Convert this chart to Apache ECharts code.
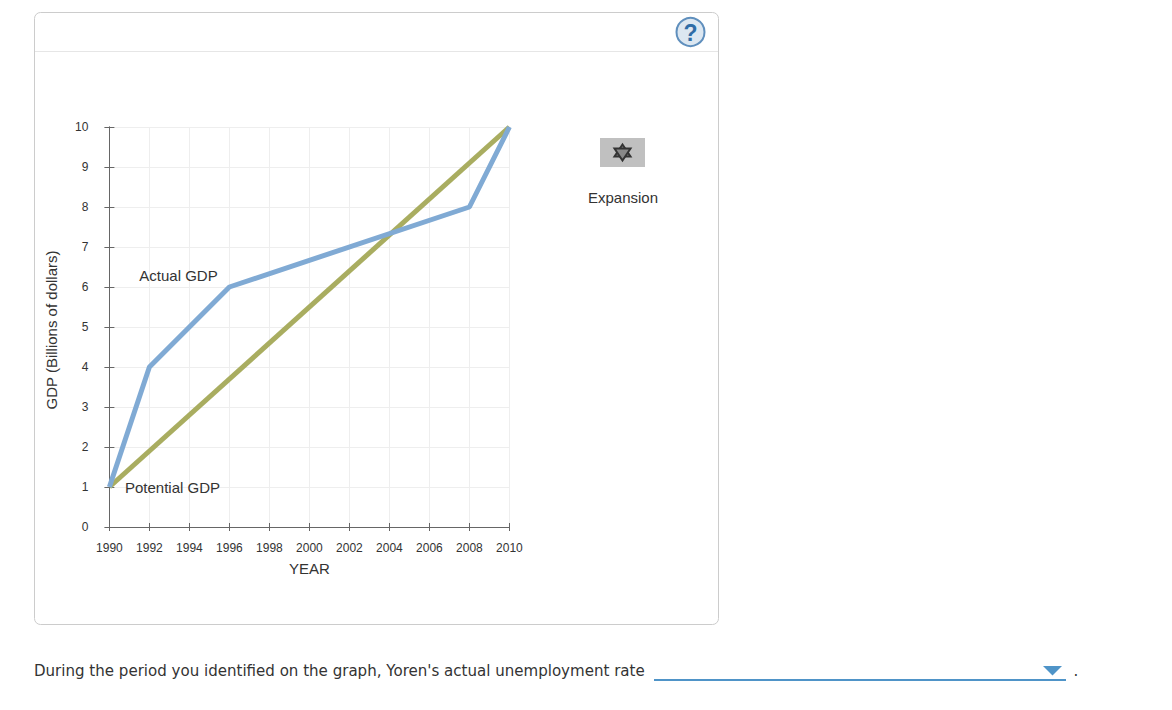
<!DOCTYPE html>
<html lang="en">
<head>
<meta charset="UTF-8">
<title>GDP</title>
<style>
  html, body { margin: 0; padding: 0; background: #fff; }
  #chart { width: 1172px; height: 710px; }
</style>
<script src="https://cdn.jsdelivr.net/npm/echarts@6/dist/echarts.min.js"></script>
</head>
<body>
<div id="chart"></div>
<script>
var actualYears = [1990, 1992, 1996, 2008, 2010];
var actualGdp = [1, 4, 6, 8, 10];
var potentialYears = [1990, 2010];
var potentialGdp = [1, 10];

function pairs(xs, ys) {
  return xs.map(function (x, i) { return [x, ys[i]]; });
}

var sans = '"Liberation Sans", Arial, sans-serif';
var verdana = '"DejaVu Sans", Verdana, sans-serif';
var axisGrey = '#666666';

function yearAxis(inside) {
  return {
    type: 'value', min: 1990, max: 2010, interval: 2,
    position: 'bottom',
    name: inside ? '' : 'YEAR',
    nameLocation: 'middle', nameGap: 34,
    nameTextStyle: { fontFamily: sans, fontSize: 15, color: '#333' },
    axisLine: { show: true, onZero: false, lineStyle: { color: axisGrey, width: 1 } },
    axisTick: { show: true, inside: inside, length: 4, lineStyle: { color: axisGrey } },
    axisLabel: {
      show: !inside, margin: 15, fontFamily: sans, fontSize: 12, color: '#333',
      formatter: function (v) { return String(v); }
    },
    splitLine: { show: !inside, lineStyle: { color: '#eeeeee' } }
  };
}

function gdpAxis(inside) {
  return {
    type: 'value', min: 0, max: 10, interval: 1,
    position: 'left',
    name: inside ? '' : 'GDP (Billions of dollars)',
    nameLocation: 'middle', nameGap: 50, nameRotate: 90,
    nameTextStyle: { fontFamily: sans, fontSize: 15, color: '#333', padding: [0, 6, 0, 0] },
    axisLine: { show: true, onZero: false, lineStyle: { color: axisGrey, width: 1 } },
    axisTick: { show: true, inside: inside, length: 5, lineStyle: { color: axisGrey } },
    axisLabel: { show: !inside, margin: 21, padding: [2, 0, 0, 0], fontFamily: sans, fontSize: 12, color: '#333' },
    splitLine: { show: !inside, lineStyle: { color: '#eeeeee' } }
  };
}

var chart = echarts.init(document.getElementById('chart'), null, { renderer: 'svg' });
chart.setOption({
  animation: false,
  backgroundColor: '#fff',
  grid: { left: 109.4, top: 127, width: 400, height: 400 },
  xAxis: [yearAxis(false), yearAxis(true)],
  yAxis: [gdpAxis(false), gdpAxis(true)],
  series: [
    {
      name: 'Potential GDP', type: 'line', showSymbol: false, silent: true,
      clip: false, z: 3,
      lineStyle: { color: '#a9ad60', width: 5 },
      data: pairs(potentialYears, potentialGdp)
    },
    {
      name: 'Actual GDP', type: 'line', showSymbol: false, silent: true,
      clip: false, z: 4,
      lineStyle: { color: '#80aad4', width: 5 },
      data: pairs(actualYears, actualGdp)
    }
  ],
  graphic: [
    // card
    { type: 'rect', z: -10, shape: { x: 34.5, y: 12.5, width: 684, height: 612, r: 6 },
      style: { fill: '#fff', stroke: '#cccccc', lineWidth: 1 } },
    { type: 'line', z: -9, shape: { x1: 35, y1: 51.5, x2: 718, y2: 51.5 },
      style: { stroke: '#e6e6e6', lineWidth: 1 } },
    // help button
    { type: 'circle', shape: { cx: 690.5, cy: 32, r: 14 },
      style: { fill: '#dce7f1', stroke: '#5f8fbd', lineWidth: 2 } },
    { type: 'text', x: 690.5, y: 32.5, style: { text: '?', fontFamily: sans, fontSize: 23, fontWeight: 'bold',
      fill: '#2f6ca6', align: 'center', verticalAlign: 'middle' } },
    // expansion tool
    { type: 'rect', shape: { x: 600, y: 138, width: 45, height: 29 }, style: { fill: '#c0c0c0' } },
    { type: 'polygon', shape: { points: [[622.5, 144.5], [630.5, 156.5], [614.5, 156.5]] },
      style: { fill: '#888', stroke: '#333', lineWidth: 2 } },
    { type: 'polygon', shape: { points: [[622.5, 160.5], [630.5, 148.5], [614.5, 148.5]] },
      style: { fill: '#888', stroke: '#333', lineWidth: 2 } },
    { type: 'text', z: 10, x: 623, y: 197, style: { text: 'Expansion', fontFamily: sans, fontSize: 15, fill: '#333',
      align: 'center', verticalAlign: 'middle' } },
    // line labels
    { type: 'text', z: 10, x: 178.5, y: 275.5, style: { text: 'Actual GDP', fontFamily: sans, fontSize: 15, fill: '#333',
      align: 'center', verticalAlign: 'middle' } },
    { type: 'text', z: 10, x: 172.5, y: 487.5, style: { text: 'Potential GDP', fontFamily: sans, fontSize: 15, fill: '#333',
      align: 'center', verticalAlign: 'middle' } },
    // question under the card
    { type: 'text', x: 34, y: 670.5, style: { text: "During the period you identified on the graph, Yoren's actual unemployment rate",
      fontFamily: verdana, fontSize: 15.06, fill: '#333', align: 'left', verticalAlign: 'middle' } },
    { type: 'line', shape: { x1: 654, y1: 680, x2: 1066, y2: 680 }, style: { stroke: '#4f94c8', lineWidth: 2 } },
    { type: 'polygon', shape: { points: [[1043, 666], [1062, 666], [1052.5, 675.5]] }, style: { fill: '#4f94c8' } },
    { type: 'text', x: 1076, y: 670.5, style: { text: '.', fontFamily: verdana, fontSize: 15,
      fill: '#333', align: 'center', verticalAlign: 'middle' } }
  ]
});
</script>
</body>
</html>
